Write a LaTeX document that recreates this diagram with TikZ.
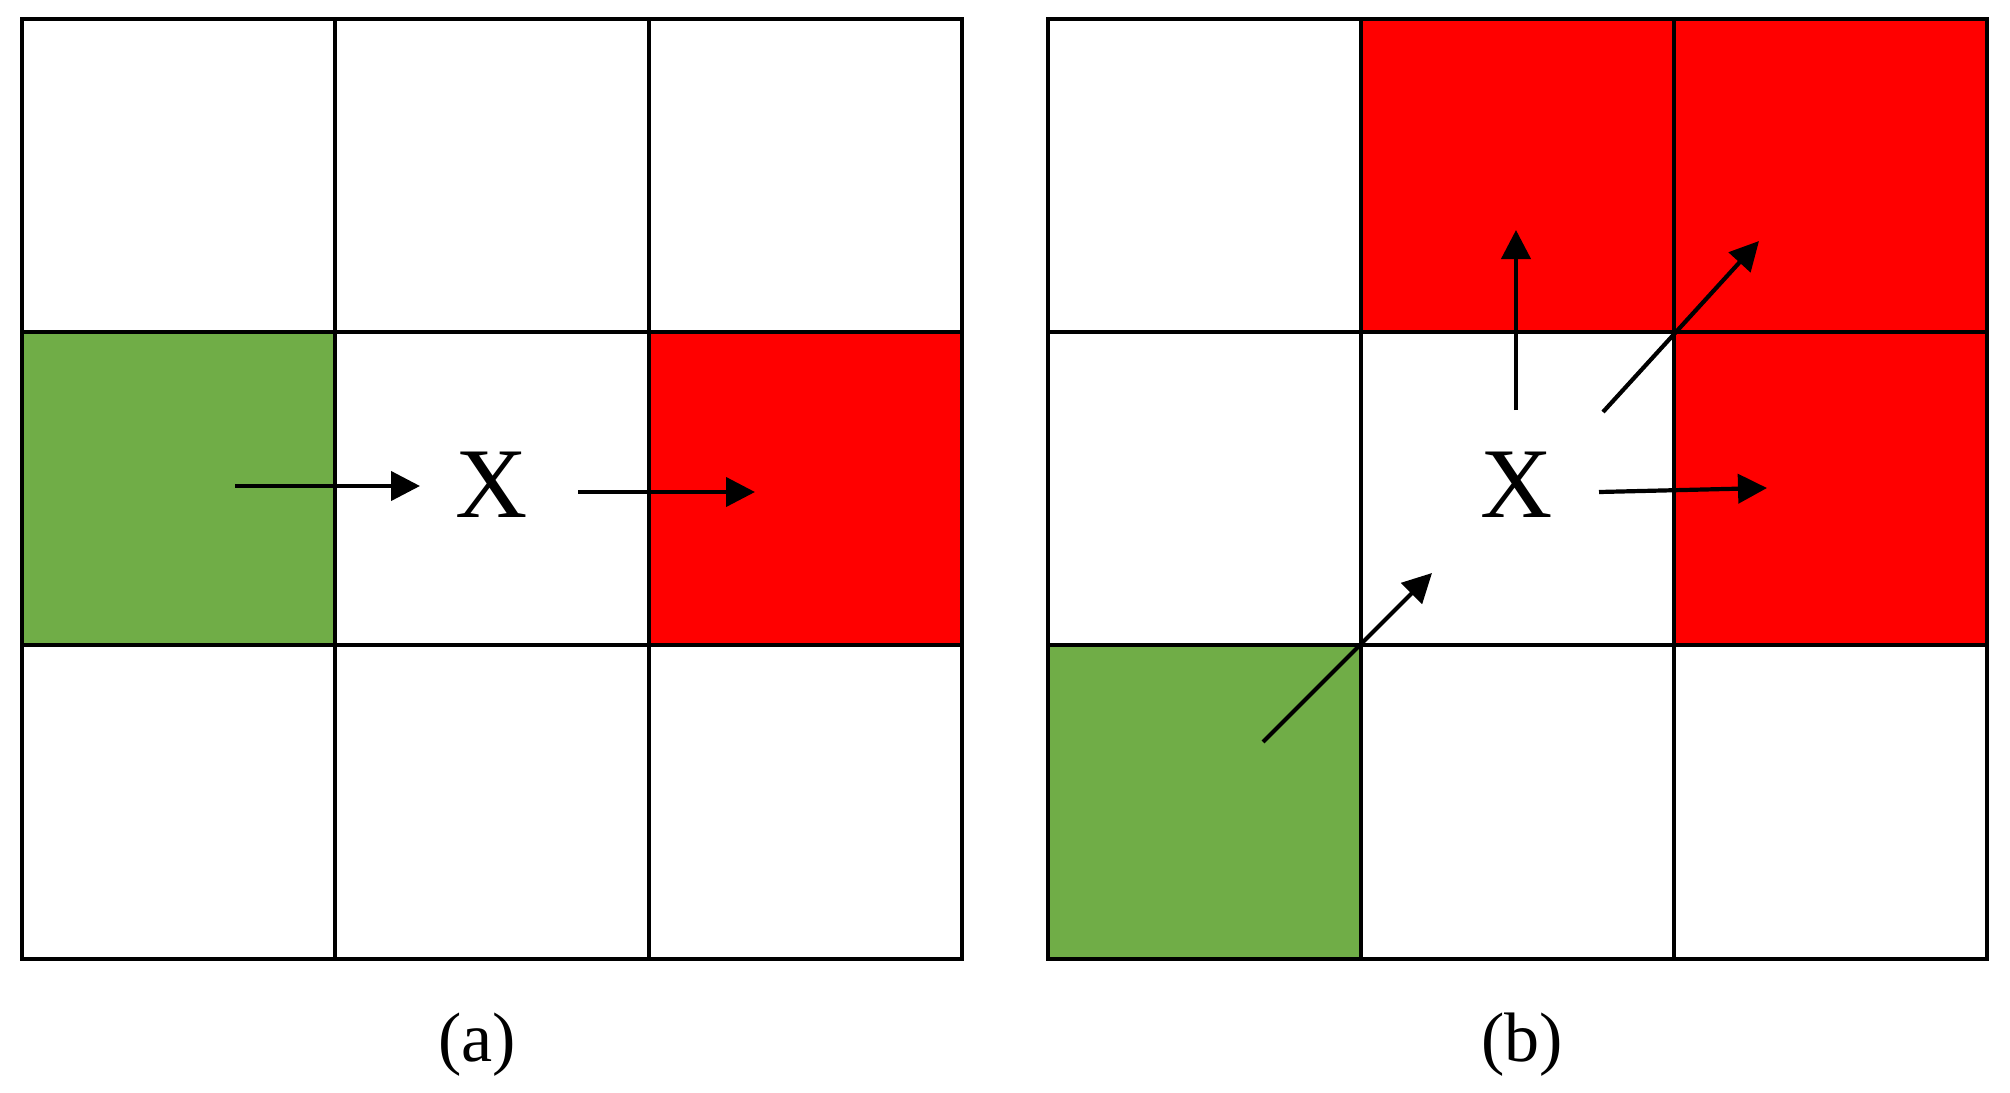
\documentclass[tikz,border=0pt]{standalone}
\usepackage{fontspec}
\setmainfont{Liberation Serif}
\usetikzlibrary{arrows.meta}
\definecolor{cgreen}{HTML}{70AD47}
\definecolor{cred}{HTML}{FF0000}
\begin{document}
\begin{tikzpicture}[x=0.5pt,y=-0.5pt,
  outerline/.style={line width=2pt},
  innerline/.style={line width=1.6pt},
  arr/.style={line width=2.1pt,-{Triangle[length=14.5pt,width=14.5pt]}},
  bigx/.style={inner sep=0pt,font=\fontsize{50}{50}\selectfont},
  caplabel/.style={inner sep=0pt,anchor=base,font=\fontsize{35}{35}\selectfont}]
\useasboundingbox (0,0) rectangle (2010,1093);
\fill[white] (0,0) rectangle (2010,1093);
% ---------- grid (a)
\fill[cgreen] (22,332) rectangle (335,645);
\fill[cred] (649,332) rectangle (962,645);
\draw[innerline] (335,19) -- (335,959) (649,19) -- (649,959)
             (22,332) -- (962,332) (22,645) -- (962,645);
\draw[outerline] (22,19) rectangle (962,959);
\node[bigx] (Xa) at (492,485) {X};
\coordinate (a1s) at (235,486);
\coordinate (a1e) at (420,486);
\coordinate (a2s) at (578,492);
\coordinate (a2e) at (755,492);
\draw[arr] (a1s) -- (a1e);
\draw[arr] (a2s) -- (a2e);
\node[caplabel] (la) at (477,1061) {(a)};
% ---------- grid (b)
\fill[cred] (1361,19) rectangle (1987,332);
\fill[cred] (1674,332) rectangle (1987,645);
\fill[cgreen] (1048,645) rectangle (1361,959);
\draw[innerline] (1361,19) -- (1361,959) (1674,19) -- (1674,959)
             (1048,332) -- (1987,332) (1048,645) -- (1987,645);
\draw[outerline] (1048,19) rectangle (1987,959);
\node[bigx] (Xb) at (1517,485) {X};
\coordinate (b1s) at (1263,742);
\coordinate (b1e) at (1432,573);
\coordinate (b2s) at (1516,410);
\coordinate (b2e) at (1516,230);
\coordinate (b3s) at (1603,412);
\coordinate (b3e) at (1759,241);
\coordinate (b4s) at (1599,492);
\coordinate (b4e) at (1767,488);
\draw[arr] (b1s) -- (b1e);
\draw[arr] (b2s) -- (b2e);
\draw[arr] (b3s) -- (b3e);
\draw[arr] (b4s) -- (b4e);
\node[caplabel] (lb) at (1522,1061) {(b)};
\end{tikzpicture}
\end{document}
